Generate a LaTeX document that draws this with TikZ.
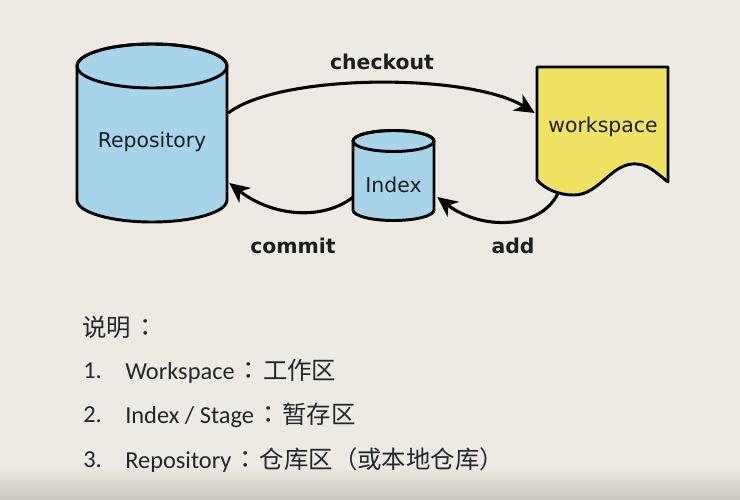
\documentclass[tikz,border=0pt]{standalone}
\usepackage{fontspec}
\setmainfont{Carlito}
\newfontfamily\cjk{Noto Sans CJK SC}
\newfontfamily\cjktc{Noto Sans CJK TC}
\newfontfamily\dvs{DejaVu Sans}
\usetikzlibrary{arrows.meta,calc}
\definecolor{bgc}{RGB}{237,234,227}
\definecolor{bgdark}{RGB}{206,201,192}
\definecolor{cylblue}{RGB}{168,212,234}
\definecolor{wsyellow}{RGB}{240,226,98}
\definecolor{txt}{RGB}{30,30,30}
\definecolor{listtxt}{RGB}{35,38,44}
\newcommand{\fwcolon}{\hspace{1.5pt}{\cjktc ：}\hspace{1.5pt}}
\tikzset{
  shapeline/.style={draw=black, line width=2.2pt, line join=round},
  holder/.style={rectangle, draw=none, inner sep=0pt},
  dlabel/.style={font=\dvs\fontsize{15.3}{18}\selectfont, text=txt, inner sep=0pt},
  blabel/.style={font=\dvs\bfseries\fontsize{15.3}{18}\selectfont, text=txt, inner sep=0pt},
  conn/.style={line width=2.3pt, -{Stealth[length=15pt,width=14pt,inset=4.5pt]}},
  listitem/.style={anchor=west, inner sep=0pt, text=listtxt, font=\fontsize{18.3}{22}\selectfont}
}
\begin{document}
\begin{tikzpicture}[x=0.75pt,y=0.75pt]
\useasboundingbox (0,0) rectangle (740,-500);
\fill[bgc] (0,0) rectangle (740,-500);
\shade[top color=bgc, bottom color=bgdark] (0,-465) rectangle (740,-500);

% Repository cylinder
\filldraw[shapeline, fill=cylblue] (77,-66) -- (77,-200)
  arc[start angle=180, end angle=360, x radius=75, y radius=22]
  -- (227,-66) arc[start angle=0, end angle=180, x radius=75, y radius=22] -- cycle;
\draw[shapeline] (152,-66) ellipse [x radius=75, y radius=22];
\node[holder, minimum width=112.5pt, minimum height=133.5pt] (repo) at (152,-133) {};
\node[dlabel] (repotext) at (152,-142) {Repository};

% Index cylinder
\filldraw[shapeline, fill=cylblue] (353,-141) -- (353,-210)
  arc[start angle=180, end angle=360, x radius=40.5, y radius=10.5]
  -- (434,-141) arc[start angle=0, end angle=180, x radius=40.5, y radius=10.5] -- cycle;
\draw[shapeline] (393.5,-141) ellipse [x radius=40.5, y radius=10.5];
\node[holder, minimum width=60.75pt, minimum height=67.5pt] (index) at (393.5,-175.5) {};
\node[dlabel] (indextext) at (393.5,-185) {Index};

% Workspace document
\filldraw[shapeline, fill=wsyellow] (537,-67) -- (668,-67) -- (668,-182)
  .. controls (655,-172) and (648,-163) .. (632,-164)
  .. controls (610,-166) and (598,-195) .. (574,-195)
  .. controls (558,-195) and (545,-189) .. (537,-180) -- cycle;
\node[holder, minimum width=98.25pt, minimum height=86.25pt] (ws) at (602.5,-124.5) {};
\node[dlabel] (wstext) at (603,-127) {workspace};

% connectors
\draw[conn] ($(repo.east)+(1,20)$) .. controls +(52,40) and +(-65,40) .. ($(ws.west)+(-2,11.5)$);
\draw[conn] ($(index.west)+(0,-22)$) .. controls +(-33,-24.5) and +(41,-32) .. ($(repo.east)+(2,-50)$);
\draw[conn] ($(ws.south)+(-44.5,-11)$) .. controls +(-18,-37) and +(43,-33) .. ($(index.east)+(3,-21.5)$);

\node[blabel] (checkout) at (382,-62) {checkout};
\node[blabel] (commit) at (293,-246) {commit};
\node[blabel] (add) at (513,-246) {add};

% legend
\node[listitem] (title) at (82,-327) {{\cjk 说明}\fwcolon};
\node[listitem] (n1) at (83,-371) {1.};
\node[listitem] (t1) at (125,-371) {Workspace\fwcolon{\cjk 工作区}};
\node[listitem] (n2) at (83,-415) {2.};
\node[listitem] (t2) at (125,-415) {Index / Stage\fwcolon{\cjk 暂存区}};
\node[listitem] (n3) at (83,-460) {3.};
\node[listitem] (t3) at (125,-460) {Repository\fwcolon{\cjk 仓库区（或本地仓库）}};
\end{tikzpicture}
\end{document}
